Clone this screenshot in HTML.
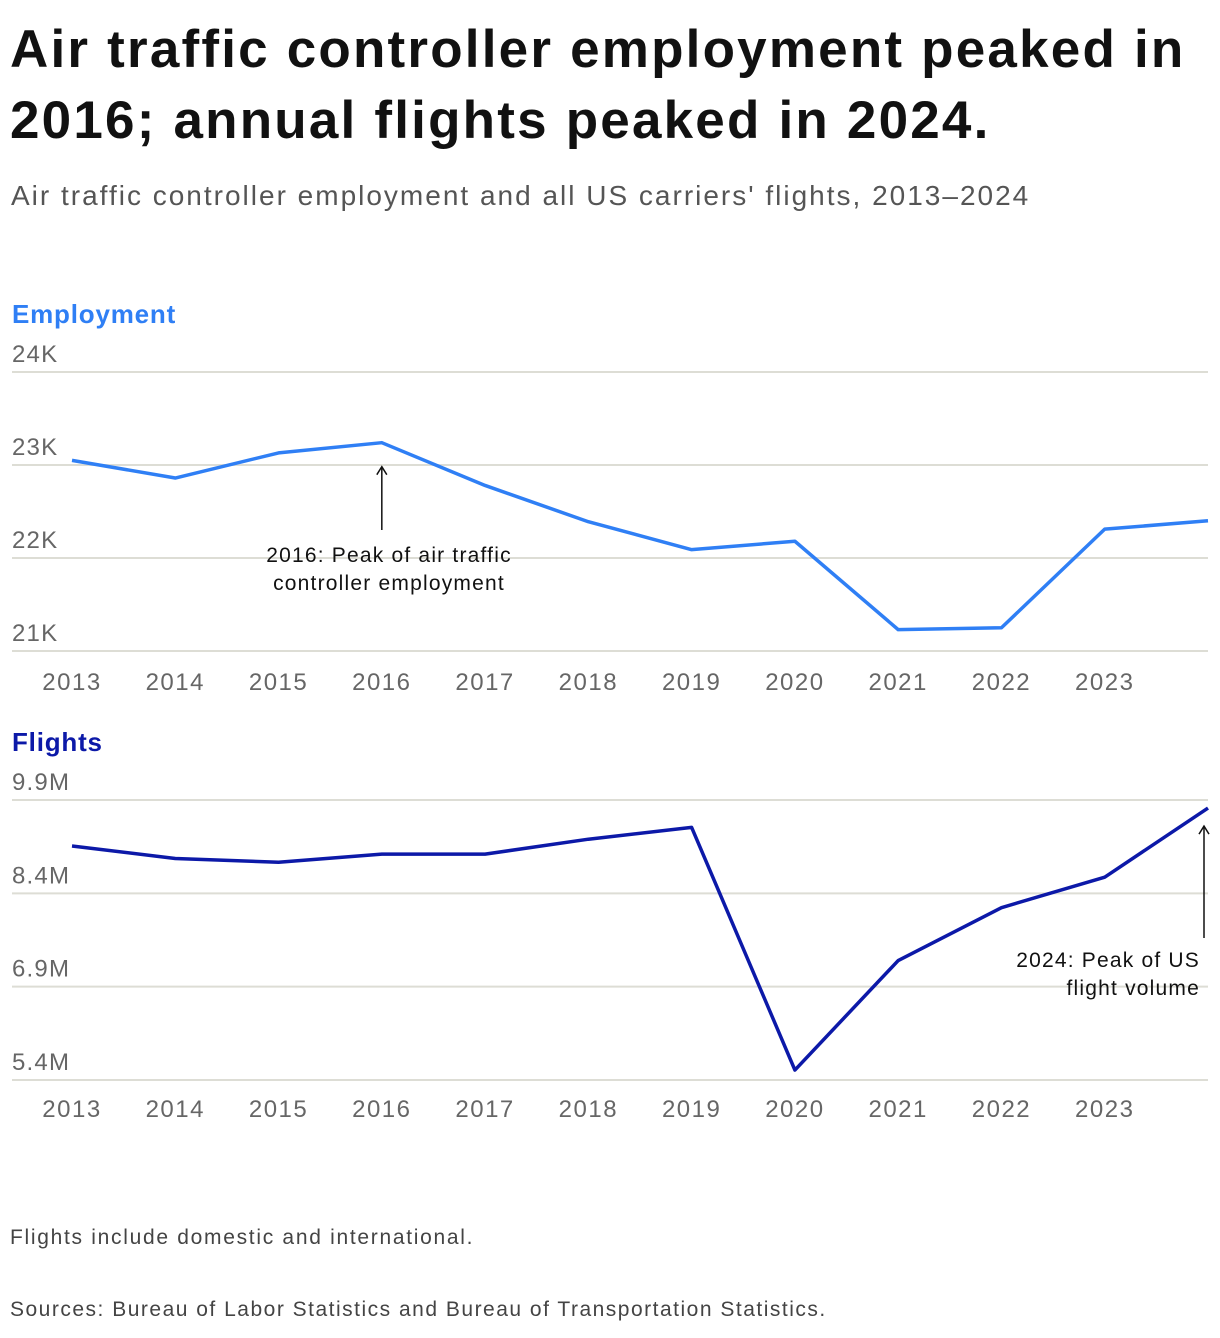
<!DOCTYPE html>
<html><head><meta charset="utf-8"><style>
body{margin:0;background:#fff;font-family:"Liberation Sans",sans-serif;}
#wrap{position:relative;width:1220px;height:1338px;overflow:hidden;}
h1{position:absolute;left:10px;top:14px;margin:0;font-size:53px;line-height:71px;font-weight:bold;color:#111;letter-spacing:2.2px;}
.sub{position:absolute;left:11px;top:180px;font-size:28px;color:#555;letter-spacing:2px;}
.note{position:absolute;left:10px;font-size:21px;color:#444;}
svg{position:absolute;left:0;top:0;}
</style></head><body>
<div id="wrap">
<h1>Air traffic controller employment peaked in<br>2016; annual flights peaked in 2024.</h1>
<div class="sub">Air traffic controller employment and all US carriers' flights, 2013–2024</div>
<svg id="svg" width="1220" height="1338"></svg>
<div class="note" style="top:1226px;letter-spacing:1.7px">Flights include domestic and international.</div>
<div class="note" style="top:1298px;letter-spacing:1.5px">Sources: Bureau of Labor Statistics and Bureau of Transportation Statistics.</div>
</div>
<script>
const years=[2013,2014,2015,2016,2017,2018,2019,2020,2021,2022,2023,2024];
const xTickLabels=["2013","2014","2015","2016","2017","2018","2019","2020","2021","2022","2023"];
const employment=[23.05,22.86,23.13,23.24,22.78,22.39,22.09,22.18,21.23,21.25,22.31,22.40];
const empTicks=[21,22,23,24];
const empTickLabels=["21K","22K","23K","24K"];
const flights=[9.16,8.96,8.90,9.03,9.03,9.27,9.46,5.56,7.32,8.17,8.66,9.77];
const flTicks=[5.4,6.9,8.4,9.9];
const flTickLabels=["5.4M","6.9M","8.4M","9.9M"];

const svg=document.getElementById('svg');
const NS='http://www.w3.org/2000/svg';
function mk(t,a){const e=document.createElementNS(NS,t);for(const k in a)e.setAttribute(k,a[k]);svg.appendChild(e);return e;}
const x=y=>72+(y-2013)*(1208-72)/11;

function panel(name,title,color,vals,ticks,tlabels,yTop,yBot,titleY,xLabelY){
  const vmin=ticks[0],vmax=ticks[ticks.length-1];
  const y=v=>yBot-(v-vmin)/(vmax-vmin)*(yBot-yTop);
  let t=mk('text',{x:12,y:titleY,'font-size':26,'font-weight':'bold',fill:color,'letter-spacing':0.8});t.textContent=title;
  
  
  ticks.forEach((v,i)=>{
    const l=mk('line',{x1:12,x2:1208,y1:y(v),y2:y(v),stroke:'#ddddd5','stroke-width':2});
    
    
    const tt=mk('text',{x:12,y:y(v)-10,'font-size':24,fill:'#666','letter-spacing':1.2});tt.textContent=tlabels[i];
    
    
  });
  xTickLabels.forEach((s,i)=>{
    const tt=mk('text',{x:x(years[i]),y:xLabelY,'font-size':24,fill:'#666','text-anchor':'middle','letter-spacing':1.5});tt.textContent=s;
    
    
  });
  const p=mk('polyline',{points:vals.map((v,i)=>x(years[i])+','+y(v)).join(' '),fill:'none',stroke:color,'stroke-width':3.5,'stroke-linejoin':'round'});
  
  
  return y;
}
const ye=panel('employment','Employment','#2f7ff5',employment,empTicks,empTickLabels,372,651,323,690);
const yf=panel('flights','Flights','#0c19a8',flights,flTicks,flTickLabels,800,1080,751,1117);

function arrow(name,ax,y1,y2){
  const l=mk('line',{x1:ax,x2:ax,y1:y1,y2:y2,stroke:'#111','stroke-width':1.5});
  
  
  const h=mk('polyline',{points:`${ax-5},${y1+8} ${ax},${y1} ${ax+5},${y1+8}`,fill:'none',stroke:'#111','stroke-width':1.5});
  
  
}
arrow('employment-peak-arrow',x(2016),ye(employment[3])+24,530);
arrow('flights-peak-arrow',x(2024)-4,yf(flights[11])+18,938);
function label(name,lines,lx,ly,anchor){
  lines.forEach((s,i)=>{
    const t=mk('text',{x:lx,y:ly+i*28,'font-size':21,fill:'#111','text-anchor':anchor,'letter-spacing':1.2});t.textContent=s;
    
    
  });
}
label('employment-peak-annotation',['2016: Peak of air traffic','controller employment'],389,562,'middle');
label('flights-peak-annotation',['2024: Peak of US','flight volume'],1200,967,'end');
</script>
</body></html>
